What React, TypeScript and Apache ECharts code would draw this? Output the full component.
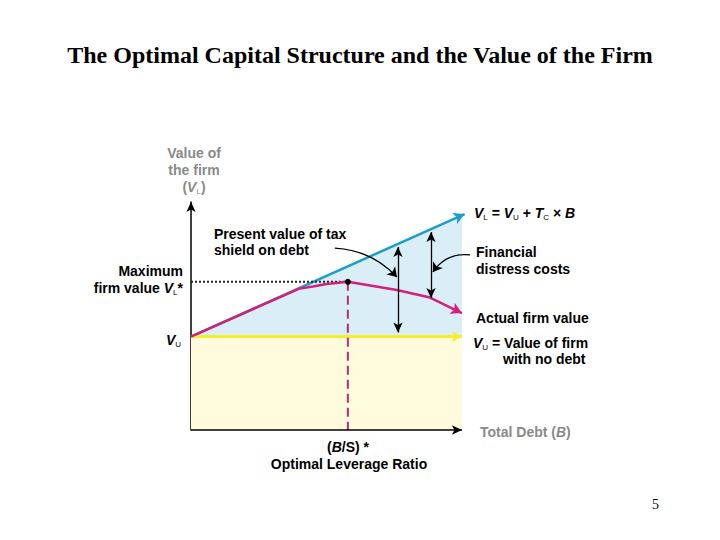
import React, { useEffect, useRef } from "react";
import * as echarts from "echarts";

// ---- data (in chart units: x = total debt 0..100, y = firm value 0..100) ----
const xAxisEnd = 100;
const leveredLine = [[0, 41], [101, 94.7]]; // V_L = V_U + T_C x B
const leveredArea = [[0, 41], [100, 94.2]];
const unleveredLine = [[0, 41], [100, 41]]; // V_U
const actualValue = [
  [0, 41], [40.2, 62.1], [45, 62.9], [50, 64], [57.9, 65], [76, 61.4], [88.2, 58.1], [100, 51.3],
];
const optimum = [57.9, 65];
const taxShieldArrow = [[76.4, 80.3], [76.4, 42.8]];
const distressArrow = [[88.6, 86.8], [88.6, 57.9]];
const taxShieldPointer = [[53.1, 79.8], [76, 67.1]];
const distressPointer = [[103, 76.8], [89.3, 69.3]];

const FONT = '"Liberation Sans", Arial, Helvetica, sans-serif';
const SERIF = '"Liberation Serif", "Times New Roman", Times, serif';
const BLUE = "#1c9ec6";
const PINK = "#d41f7c";
const YELLOW = "#f4ee2e";
const GRAY = "#8a8a8a";

function richFor(fill: string) {
  return {
    i: { fontStyle: "italic", fontWeight: "bold", fontSize: 14, fontFamily: FONT, fill, lineHeight: 16, verticalAlign: "middle" },
    s: { fontSize: 8, fontFamily: FONT, fill, lineHeight: 8, verticalAlign: "bottom" },
  };
}

function txt(text: string, x: number, y: number, align: string = "left", fill: string = "#000", font?: string) {
  return {
    type: "text",
    x,
    y,
    silent: true,
    style: {
      text,
      font: font || `bold 14px ${FONT}`,
      fill,
      align,
      verticalAlign: "middle",
      rich: richFor(fill),
    },
  };
}

export default function App() {
  const ref = useRef<HTMLDivElement>(null);
  useEffect(() => {
    if (!ref.current) return;
    const chart = echarts.init(ref.current, null, { renderer: "svg" });
    const hidden = {
      axisLabel: { show: false },
      axisTick: { show: false },
      splitLine: { show: false },
    };
    const mlBase = { silent: true, label: { show: false }, emphasis: { disabled: true } };
    chart.setOption({
      animation: false,
      backgroundColor: "#fff",
      grid: { left: 191, right: 231, top: 202, bottom: 110 },
      xAxis: { type: "value", min: 0, max: 110, ...hidden, axisLine: { show: false } },
      yAxis: {
        type: "value",
        min: 0,
        max: 100,
        ...hidden,
        axisLine: {
          show: true,
          onZero: false,
          symbol: ["none", "arrow"],
          symbolSize: [7, 10],
          lineStyle: { color: "#000", width: 1.5 },
        },
      },
      series: [
        {
          type: "line",
          z: 2,
          data: leveredArea,
          symbol: "none",
          clip: false,
          lineStyle: { opacity: 0 },
          areaStyle: { color: "#d9eef6", opacity: 1 },
          markLine: {
            ...mlBase,
            z: 3,
            symbol: ["none", "arrow"],
            symbolSize: [9, 11],
            lineStyle: { color: BLUE, width: 2.5, type: "solid" },
            data: [[{ coord: leveredLine[0] }, { coord: leveredLine[1] }]],
          },
        },
        {
          type: "line",
          z: 2,
          data: unleveredLine,
          symbol: "none",
          clip: false,
          lineStyle: { opacity: 0 },
          areaStyle: { color: "#fffbdc", opacity: 1 },
          markLine: {
            ...mlBase,
            z: 3,
            symbol: ["none", "arrow"],
            symbolSize: [8, 10],
            lineStyle: { color: YELLOW, width: 3, type: "solid" },
            data: [[{ coord: unleveredLine[0] }, { coord: unleveredLine[1] }]],
          },
        },
        {
          type: "line",
          z: 3,
          data: [[0, optimum[1]], optimum],
          symbol: "none",
          clip: false,
          lineStyle: { color: "#222", width: 2, type: [2, 2] },
        },
        {
          type: "line",
          z: 3,
          data: [optimum, [optimum[0], 0]],
          symbol: "none",
          clip: false,
          lineStyle: { color: "#b3306e", width: 2, type: [9, 5] },
        },
        {
          type: "line",
          z: 4,
          data: actualValue.slice(0, -1),
          symbol: "none",
          clip: false,
          lineStyle: { color: PINK, width: 2.5 },
          markLine: {
            ...mlBase,
            z: 4,
            symbol: ["none", "arrow"],
            symbolSize: [9, 11],
            lineStyle: { color: PINK, width: 2.5, type: "solid" },
            data: [[
              { coord: actualValue[actualValue.length - 2] },
              { coord: actualValue[actualValue.length - 1] },
            ]],
          },
          markPoint: {
            silent: true,
            z: 6,
            symbol: "circle",
            symbolSize: 6,
            itemStyle: { color: "#000" },
            label: { show: false },
            data: [{ coord: optimum }],
          },
        },
        {
          type: "line",
          z: 5,
          data: [[0, 0], [0, 0]],
          symbol: "none",
          clip: false,
          lineStyle: { opacity: 0 },
          markLine: {
            ...mlBase,
            z: 6,
            symbol: ["none", "arrow"],
            symbolSize: [7, 10],
            lineStyle: { color: "#000", width: 1.5, type: "solid" },
            data: [[{ coord: [0, 0] }, { coord: [xAxisEnd, 0] }]],
          },
        },
        {
          type: "line",
          z: 5,
          data: [[0, 0], [0, 0]],
          symbol: "none",
          clip: false,
          lineStyle: { opacity: 0 },
          markLine: {
            ...mlBase,
            z: 6,
            symbol: ["arrow", "arrow"],
            symbolSize: [7, 10],
            lineStyle: { color: "#000", width: 1.3, type: "solid" },
            data: [
              [{ coord: taxShieldArrow[0] }, { coord: taxShieldArrow[1] }],
              [{ coord: distressArrow[0] }, { coord: distressArrow[1] }],
            ],
          },
        },
        {
          type: "lines",
          coordinateSystem: "cartesian2d",
          z: 6,
          silent: true,
          clip: false,
          symbol: ["none", "arrow"],
          symbolSize: 9,
          lineStyle: { color: "#000", width: 1.3, opacity: 1, curveness: 0.2 },
          data: [
            { coords: taxShieldPointer, lineStyle: { curveness: 0.2 } },
            { coords: distressPointer, lineStyle: { curveness: -0.3 } },
          ],
        },
      ],
      graphic: [
        txt("The Optimal Capital Structure and the Value of the Firm", 360, 55, "center", "#000", `bold 24px ${SERIF}`),
        txt("Value of", 194, 153, "center", GRAY),
        txt("the firm", 194, 170, "center", GRAY),
        txt("({i|V}{s|L})", 194, 187, "center", GRAY),
        txt("{i|V}{s|L} = {i|V}{s|U} + {i|T}{s|C} × {i|B}", 474, 213),
        txt("Present value of tax", 214, 234),
        txt("shield on debt", 214, 250),
        txt("Maximum", 183, 271, "right"),
        txt("firm value {i|V}{s|L}*", 183, 288, "right"),
        txt("Financial", 476, 252),
        txt("distress costs", 476, 269),
        txt("Actual firm value", 476, 318),
        txt("{i|V}{s|U}", 166, 340),
        txt("{i|V}{s|U} = Value of firm", 473, 343),
        txt("with no debt", 503, 359),
        txt("Total Debt ({i|B})", 480, 432, "left", GRAY),
        txt("({i|B}/S) *", 348, 447, "center"),
        txt("Optimal Leverage Ratio", 349, 464, "center"),
        txt("5", 652, 504, "left", "#000", `14px ${SERIF}`),
      ],
    });
    return () => chart.dispose();
  }, []);
  return (
    <div
      ref={ref}
      style={{ position: "fixed", left: 0, top: 0, width: 720, height: 540, background: "#fff" }}
    />
  );
}
